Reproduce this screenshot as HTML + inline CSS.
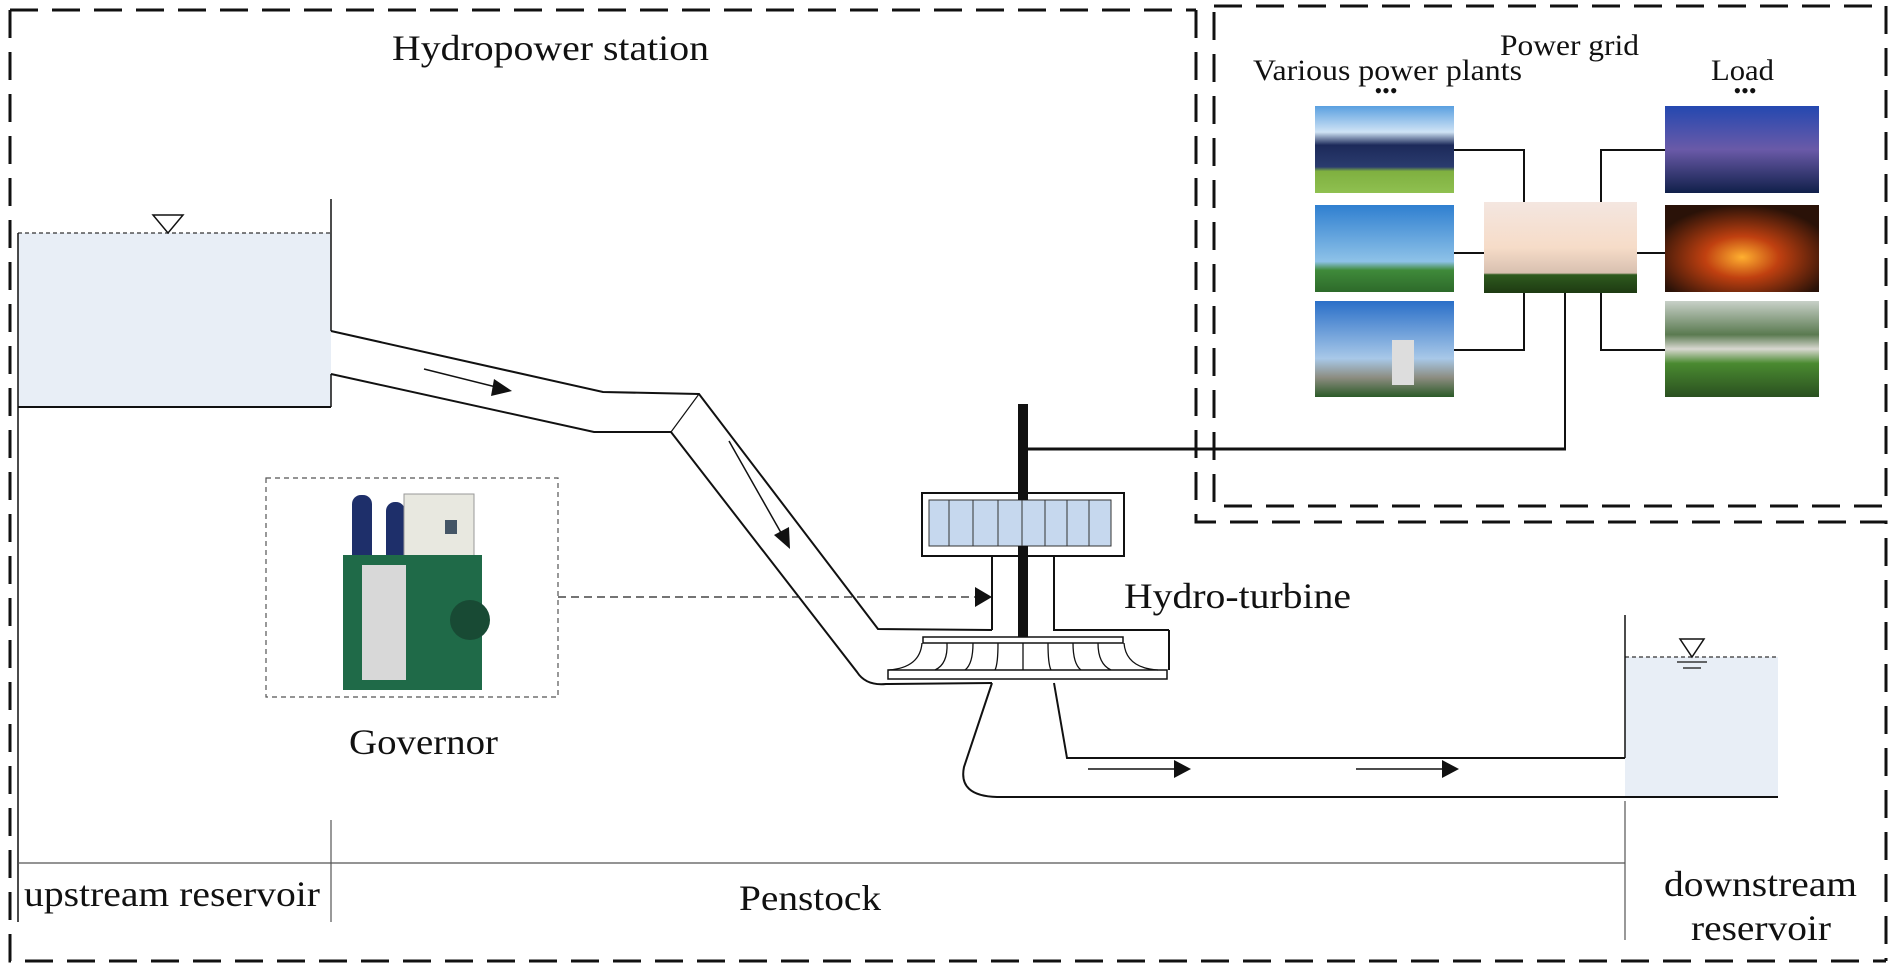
<!DOCTYPE html>
<html><head><meta charset="utf-8"><style>
html,body{margin:0;padding:0;background:#fff;}
svg{display:block;}
text{font-family:"Liberation Serif",serif;fill:#111;}
</style></head><body>
<svg width="1890" height="967" viewBox="0 0 1890 967" xmlns="http://www.w3.org/2000/svg">
<defs>
<linearGradient id="solar" x1="0" y1="0" x2="0" y2="1"><stop offset="0" stop-color="#5aa0e0"/><stop offset="0.3" stop-color="#cfe3f5"/><stop offset="0.45" stop-color="#1c2a5a"/><stop offset="0.7" stop-color="#2a3b6e"/><stop offset="0.75" stop-color="#7fb040"/><stop offset="1" stop-color="#8fc050"/></linearGradient>
<linearGradient id="wind" x1="0" y1="0" x2="0" y2="1"><stop offset="0" stop-color="#2f7fd0"/><stop offset="0.65" stop-color="#8ec2e8"/><stop offset="0.75" stop-color="#3f8a3a"/><stop offset="1" stop-color="#2d6a2a"/></linearGradient>
<linearGradient id="nuc" x1="0" y1="0" x2="0" y2="1"><stop offset="0" stop-color="#2a6fc8"/><stop offset="0.6" stop-color="#a8c8e8"/><stop offset="0.8" stop-color="#8c8c80"/><stop offset="1" stop-color="#2c5a28"/></linearGradient>
<linearGradient id="grid" x1="0" y1="0" x2="0" y2="1"><stop offset="0" stop-color="#f4e6e0"/><stop offset="0.5" stop-color="#f6dcc8"/><stop offset="0.78" stop-color="#d8c0b0"/><stop offset="0.8" stop-color="#2e5a1e"/><stop offset="1" stop-color="#1e3a12"/></linearGradient>
<linearGradient id="city" x1="0" y1="0" x2="0" y2="1"><stop offset="0" stop-color="#2448b0"/><stop offset="0.5" stop-color="#6a5aa8"/><stop offset="1" stop-color="#10204a"/></linearGradient>
<radialGradient id="fire" cx="0.5" cy="0.6" r="0.6"><stop offset="0" stop-color="#ffb030"/><stop offset="0.4" stop-color="#c04010"/><stop offset="1" stop-color="#2a1208"/></radialGradient>
<linearGradient id="vil" x1="0" y1="0" x2="0" y2="1"><stop offset="0" stop-color="#c8d0c8"/><stop offset="0.35" stop-color="#5a7a50"/><stop offset="0.5" stop-color="#d8d8d0"/><stop offset="0.65" stop-color="#4a8a30"/><stop offset="1" stop-color="#2a5020"/></linearGradient>
</defs>

<!-- outer dashed frame -->
<g fill="none" stroke="#111" stroke-width="3" stroke-dasharray="28,14">
<path d="M10,10 L1196,10"/>
<path d="M10,10 L10,961 L1886,961"/>
<path d="M1196,10 L1196,522 L1886,522 L1886,961"/>
<path d="M1214,6 L1886,6 L1886,506 L1214,506 Z"/>
</g>

<text x="392" y="60" font-size="36" textLength="317" lengthAdjust="spacingAndGlyphs">Hydropower station</text>

<!-- upstream reservoir -->
<rect x="18" y="233" width="313" height="174" fill="#e8eef6"/>
<line x1="18" y1="233" x2="331" y2="233" stroke="#333" stroke-width="1.2" stroke-dasharray="4,3"/>
<line x1="18" y1="407" x2="331" y2="407" stroke="#111" stroke-width="2"/>
<polygon points="153,215 183,215 168,233" fill="#fff" stroke="#111" stroke-width="1.5"/>
<line x1="331" y1="199" x2="331" y2="331" stroke="#111" stroke-width="1.5"/>
<line x1="331" y1="374" x2="331" y2="407" stroke="#111" stroke-width="1.5"/>
<line x1="18" y1="233" x2="18" y2="922" stroke="#111" stroke-width="1.5"/>

<!-- penstock -->
<g fill="none" stroke="#111" stroke-width="2">
<path d="M331,331 L603,392 L699,394 L878,629 L992,630"/>
<path d="M331,374 L594,432 L671,432 L857,672 Q866,686 886,684 L992,683"/>
</g>
<line x1="699" y1="394" x2="671" y2="432" stroke="#111" stroke-width="1.2"/>
<line x1="424" y1="369" x2="500" y2="388" stroke="#111" stroke-width="1.5"/>
<polygon points="512,391 494,379 491,396" fill="#111"/>
<line x1="729" y1="441" x2="784" y2="538" stroke="#111" stroke-width="1.5"/>
<polygon points="790,549 774,535 789,527" fill="#111"/>

<!-- generator -->
<rect x="922" y="493" width="202" height="63" fill="#fff" stroke="#111" stroke-width="2"/>
<rect x="929" y="500" width="182" height="46" fill="#c6d8ee" stroke="#333" stroke-width="1"/>
<g stroke="#333" stroke-width="1"><line x1="949" y1="500" x2="949" y2="546"/><line x1="973" y1="500" x2="973" y2="546"/><line x1="998" y1="500" x2="998" y2="546"/><line x1="1022" y1="500" x2="1022" y2="546"/><line x1="1045" y1="500" x2="1045" y2="546"/><line x1="1067" y1="500" x2="1067" y2="546"/><line x1="1089" y1="500" x2="1089" y2="546"/></g>
<path d="M992,556 L992,630 M1054,556 L1054,630 L1169,630" fill="none" stroke="#111" stroke-width="2"/>
<rect x="1018" y="404" width="10" height="96" fill="#111"/>
<rect x="1018" y="546" width="10" height="91" fill="#111"/>
<line x1="1028" y1="449" x2="1566" y2="449" stroke="#111" stroke-width="3"/>
<line x1="1565" y1="293" x2="1565" y2="450" stroke="#111" stroke-width="2"/>

<!-- runner -->
<rect x="923" y="637" width="200" height="6" fill="#fff" stroke="#111" stroke-width="1.5"/>
<rect x="888" y="670" width="279" height="9" fill="#fff" stroke="#111" stroke-width="1.5"/>
<line x1="1169" y1="630" x2="1169" y2="670" stroke="#111" stroke-width="2"/>
<g fill="none" stroke="#111" stroke-width="1.3">
<path d="M922,643 Q920,668 888,670"/><path d="M1124,643 Q1126,668 1158,670"/>
<path d="M947,643 Q948,664 935,670"/><path d="M973,643 Q973,664 965,670"/><path d="M998,643 Q998,664 995,670"/>
<line x1="1023" y1="643" x2="1023" y2="670"/>
<path d="M1048,643 Q1048,664 1051,670"/><path d="M1073,643 Q1073,664 1081,670"/><path d="M1098,643 Q1098,664 1111,670"/>
</g>
<!-- draft tube -->
<g fill="none" stroke="#111" stroke-width="2">
<path d="M992,683 L964,767 Q958,796 997,797 L1778,797"/>
<path d="M1054,683 L1067,758 L1625,758"/>
</g>
<line x1="1088" y1="769" x2="1180" y2="769" stroke="#111" stroke-width="1.5"/>
<polygon points="1191,769 1174,760 1174,778" fill="#111"/>
<line x1="1356" y1="769" x2="1448" y2="769" stroke="#111" stroke-width="1.5"/>
<polygon points="1459,769 1442,760 1442,778" fill="#111"/>
<text x="1124" y="608" font-size="36" textLength="227" lengthAdjust="spacingAndGlyphs">Hydro-turbine</text>

<!-- downstream -->
<rect x="1625" y="657" width="153" height="139" fill="#e8eef6"/>
<line x1="1625" y1="657" x2="1778" y2="657" stroke="#333" stroke-width="1.2" stroke-dasharray="4,3"/>
<line x1="1625" y1="615" x2="1625" y2="758" stroke="#111" stroke-width="1.5"/>
<polygon points="1680,639 1704,639 1692,657" fill="#fff" stroke="#111" stroke-width="1.5"/>
<line x1="1677" y1="662" x2="1707" y2="662" stroke="#111" stroke-width="1.2"/>
<line x1="1683" y1="668" x2="1701" y2="668" stroke="#111" stroke-width="1.2"/>

<!-- governor -->
<rect x="266" y="478" width="292" height="219" fill="none" stroke="#555" stroke-width="1.2" stroke-dasharray="5,4"/>
<rect x="352" y="495" width="20" height="160" rx="9" fill="#1e2f6a"/>
<rect x="386" y="502" width="19" height="150" rx="9" fill="#1e2f6a"/>
<rect x="404" y="494" width="70" height="64" fill="#e8e8e0" stroke="#999" stroke-width="1"/>
<rect x="445" y="520" width="12" height="14" fill="#456"/>
<rect x="343" y="555" width="139" height="135" fill="#1f6a48"/>
<rect x="362" y="565" width="44" height="115" fill="#d8d8d8"/>
<circle cx="470" cy="620" r="20" fill="#184a34"/>
<line x1="558" y1="597" x2="975" y2="597" stroke="#222" stroke-width="1.2" stroke-dasharray="8,5"/>
<polygon points="992,597 975,587 975,607" fill="#111"/>
<text x="349" y="754" font-size="36" textLength="149" lengthAdjust="spacingAndGlyphs">Governor</text>

<!-- bottom labels -->
<line x1="18" y1="863" x2="1625" y2="863" stroke="#555" stroke-width="1.2"/>
<line x1="331" y1="820" x2="331" y2="922" stroke="#555" stroke-width="1.2"/>
<line x1="1625" y1="801" x2="1625" y2="940" stroke="#555" stroke-width="1.2"/>
<text x="24" y="906" font-size="36" textLength="296" lengthAdjust="spacingAndGlyphs">upstream reservoir</text>
<text x="739" y="910" font-size="36" textLength="142" lengthAdjust="spacingAndGlyphs">Penstock</text>
<text x="1664" y="896" font-size="36" textLength="193" lengthAdjust="spacingAndGlyphs">downstream</text>
<text x="1691" y="940" font-size="36" textLength="140" lengthAdjust="spacingAndGlyphs">reservoir</text>

<!-- power grid -->
<text x="1500" y="55" font-size="30" textLength="139" lengthAdjust="spacingAndGlyphs">Power grid</text>
<text x="1253" y="80" font-size="30" textLength="269" lengthAdjust="spacingAndGlyphs">Various power plants</text>
<text x="1711" y="80" font-size="30" textLength="63" lengthAdjust="spacingAndGlyphs">Load</text>
<text x="1386" y="98" font-size="22" text-anchor="middle">•••</text>
<text x="1745" y="98" font-size="22" text-anchor="middle">•••</text>
<rect x="1315" y="106" width="139" height="87" fill="url(#solar)"/>
<rect x="1315" y="205" width="139" height="87" fill="url(#wind)"/>
<rect x="1315" y="301" width="139" height="96" fill="url(#nuc)"/>
<rect x="1392" y="340" width="22" height="45" fill="#ddd"/>
<rect x="1484" y="202" width="153" height="91" fill="url(#grid)"/>
<rect x="1665" y="106" width="154" height="87" fill="url(#city)"/>
<rect x="1665" y="205" width="154" height="87" fill="url(#fire)"/>
<rect x="1665" y="301" width="154" height="96" fill="url(#vil)"/>
<g fill="none" stroke="#111" stroke-width="2">
<path d="M1454,150 L1524,150 L1524,202"/>
<path d="M1454,253 L1484,253"/>
<path d="M1454,350 L1524,350 L1524,293"/>
<path d="M1665,150 L1601,150 L1601,202"/>
<path d="M1637,253 L1665,253"/>
<path d="M1665,350 L1601,350 L1601,293"/>
</g>
</svg>
</body></html>
